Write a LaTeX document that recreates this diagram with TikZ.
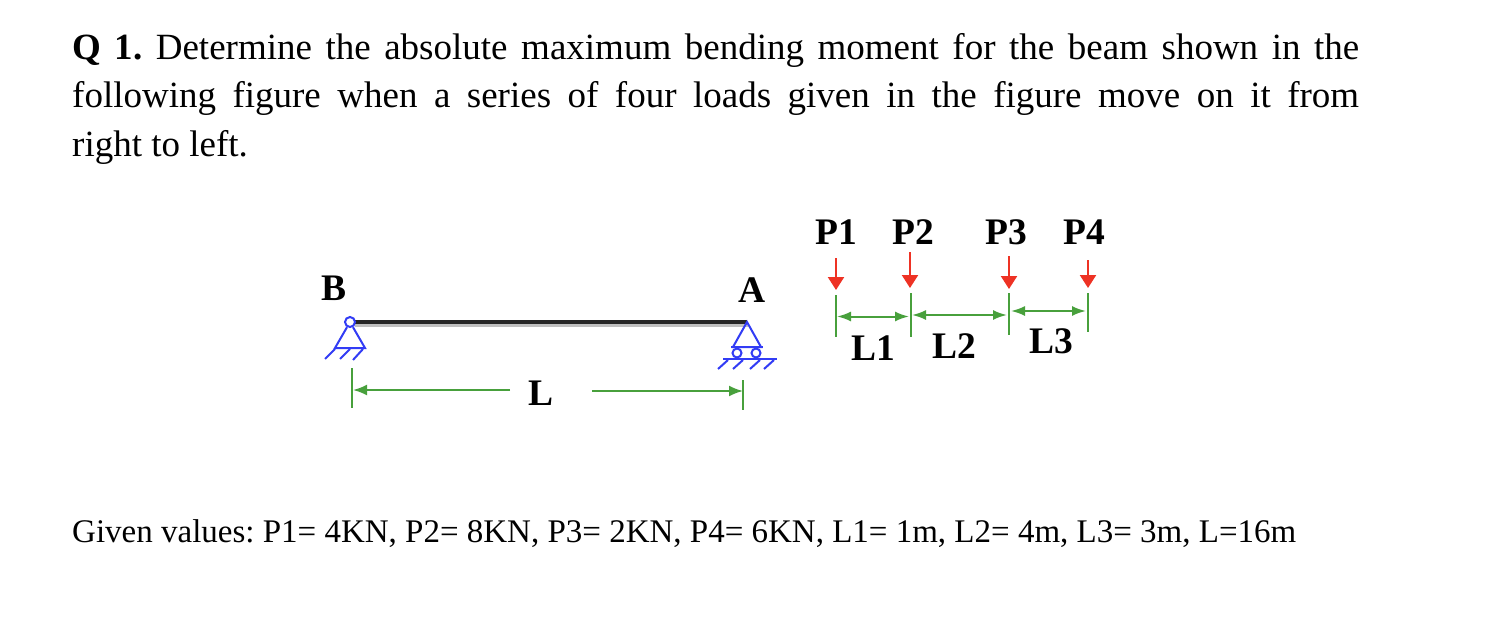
\documentclass[tikz,border=0pt]{standalone}
\usepackage{fontspec}
\setmainfont{Liberation Serif}
\usetikzlibrary{arrows.meta}
\definecolor{dimgreen}{RGB}{72,160,60}
\definecolor{loadred}{RGB}{238,50,36}
\definecolor{supblue}{RGB}{50,60,245}
\tikzset{
  x=1pt,y=-1pt,
  figlabel/.style={font=\fontsize{37.5}{37.5}\selectfont\bfseries,inner sep=0pt},
  dimtick/.style={draw=dimgreen,line width=2pt},
  dimline/.style={draw=dimgreen,line width=2pt,-{Latex[length=14pt,width=11pt]}},
  dimboth/.style={draw=dimgreen,line width=2pt,{Latex[length=14pt,width=10pt]}-{Latex[length=14pt,width=10pt]}},
  loadarrow/.style={draw=loadred,line width=2.2pt,-{Triangle[length=13pt,width=16pt]}},
  support/.style={draw=supblue,line width=2pt},
}
\begin{document}
\begin{tikzpicture}
\useasboundingbox (0,0) rectangle (1488,618);
\fill[white] (0,0) rectangle (1488,618);
% text
\node[anchor=north west,inner sep=0pt,text width=1287pt,align=justify,
      font=\fontsize{37}{48.2}\selectfont\frenchspacing] (question) at (72,33.5)
  {\textbf{Q 1.} Determine the absolute maximum bending moment for the beam shown in the\linebreak[4] following figure when a series of four loads given in the figure move on it from\linebreak[4] right to left.};
\node[anchor=base west,inner sep=0pt,font=\fontsize{33}{40}\selectfont\frenchspacing] (given) at (72,542)
  {Given values: P1= 4KN, P2= 8KN, P3= 2KN, P4= 6KN, L1= 1m, L2= 4m, L3= 3m, L=16m};
% beam
\coordinate (hingeB) at (350,322);
\coordinate (hingeA) at (747,322);
\draw[line width=3pt,black!25] (355,325) -- (748,325);
\draw[line width=3.5pt,black!85] (355,322) -- (hingeA);
\node[figlabel] (labB) at (334,288) {B};
\node[figlabel] (labA) at (752,290) {A};
% support B
\node[circle,draw=supblue,line width=2pt,minimum size=10pt,inner sep=0pt] (pinB) at (hingeB) {};
\draw[support] (pinB) -- (335,348) -- (365,348) -- (pinB);
\draw[support] (335,349) -- (325,359);
\draw[support] (350,349) -- (340,359);
\draw[support] (363,349) -- (353,360);
% support A
\draw[support] (hingeA) -- (733,347) -- (761,347) -- cycle;
\draw[support] (731,347) -- (763,347);
\node[circle,draw=supblue,line width=2pt,minimum size=9pt,inner sep=0pt] (rollA1) at (737,353) {};
\node[circle,draw=supblue,line width=2pt,minimum size=9pt,inner sep=0pt] (rollA2) at (756,353) {};
\draw[support] (723,358.5) -- (777,358.5);
\draw[support] (728,360) -- (718,369);
\draw[support] (743,360) -- (733,369);
\draw[support] (760,360) -- (750,369);
\draw[support] (774,360) -- (764,369);
% span dimension
\coordinate (spanL) at (353,390);
\coordinate (spanR) at (743,391);
\draw[dimtick] (352,368) -- (352,408);
\draw[dimtick] (743,380) -- (743,410);
\node[figlabel] (labL) at (541,393) {L};
\draw[dimline] (510,390) -- (spanL);
\draw[dimline] (592,391) -- (spanR);
% loads
\node[figlabel] (p1) at (836,232) {P1};
\node[figlabel] (p2) at (913,232) {P2};
\node[figlabel] (p3) at (1006,232) {P3};
\node[figlabel] (p4) at (1084.5,232) {P4};
\coordinate (a1) at (836,258); \coordinate (b1) at (836,290);
\coordinate (a2) at (910,252); \coordinate (b2) at (910,288);
\coordinate (a3) at (1009,256); \coordinate (b3) at (1009,289);
\coordinate (a4) at (1088,260); \coordinate (b4) at (1088,288);
\draw[loadarrow] (a1) -- (b1);
\draw[loadarrow] (a2) -- (b2);
\draw[loadarrow] (a3) -- (b3);
\draw[loadarrow] (a4) -- (b4);
% load dimensions
\draw[dimtick] (836,295) -- (836,337);
\draw[dimtick] (910.5,293) -- (910.5,337);
\draw[dimtick] (1009,293) -- (1009,335);
\draw[dimtick] (1088,293) -- (1088,332);
\coordinate (l1a) at (837,316.5); \coordinate (l1b) at (909,316.5);
\coordinate (l2a) at (912,315);   \coordinate (l2b) at (1007,315);
\coordinate (l3a) at (1011,311);  \coordinate (l3b) at (1086,311);
\draw[dimboth] (l1a) -- (l1b);
\draw[dimboth] (l2a) -- (l2b);
\draw[dimboth] (l3a) -- (l3b);
\node[figlabel] (labL1) at (873,348) {L1};
\node[figlabel] (labL2) at (954,346) {L2};
\node[figlabel] (labL3) at (1051,341) {L3};
\end{tikzpicture}
\end{document}
